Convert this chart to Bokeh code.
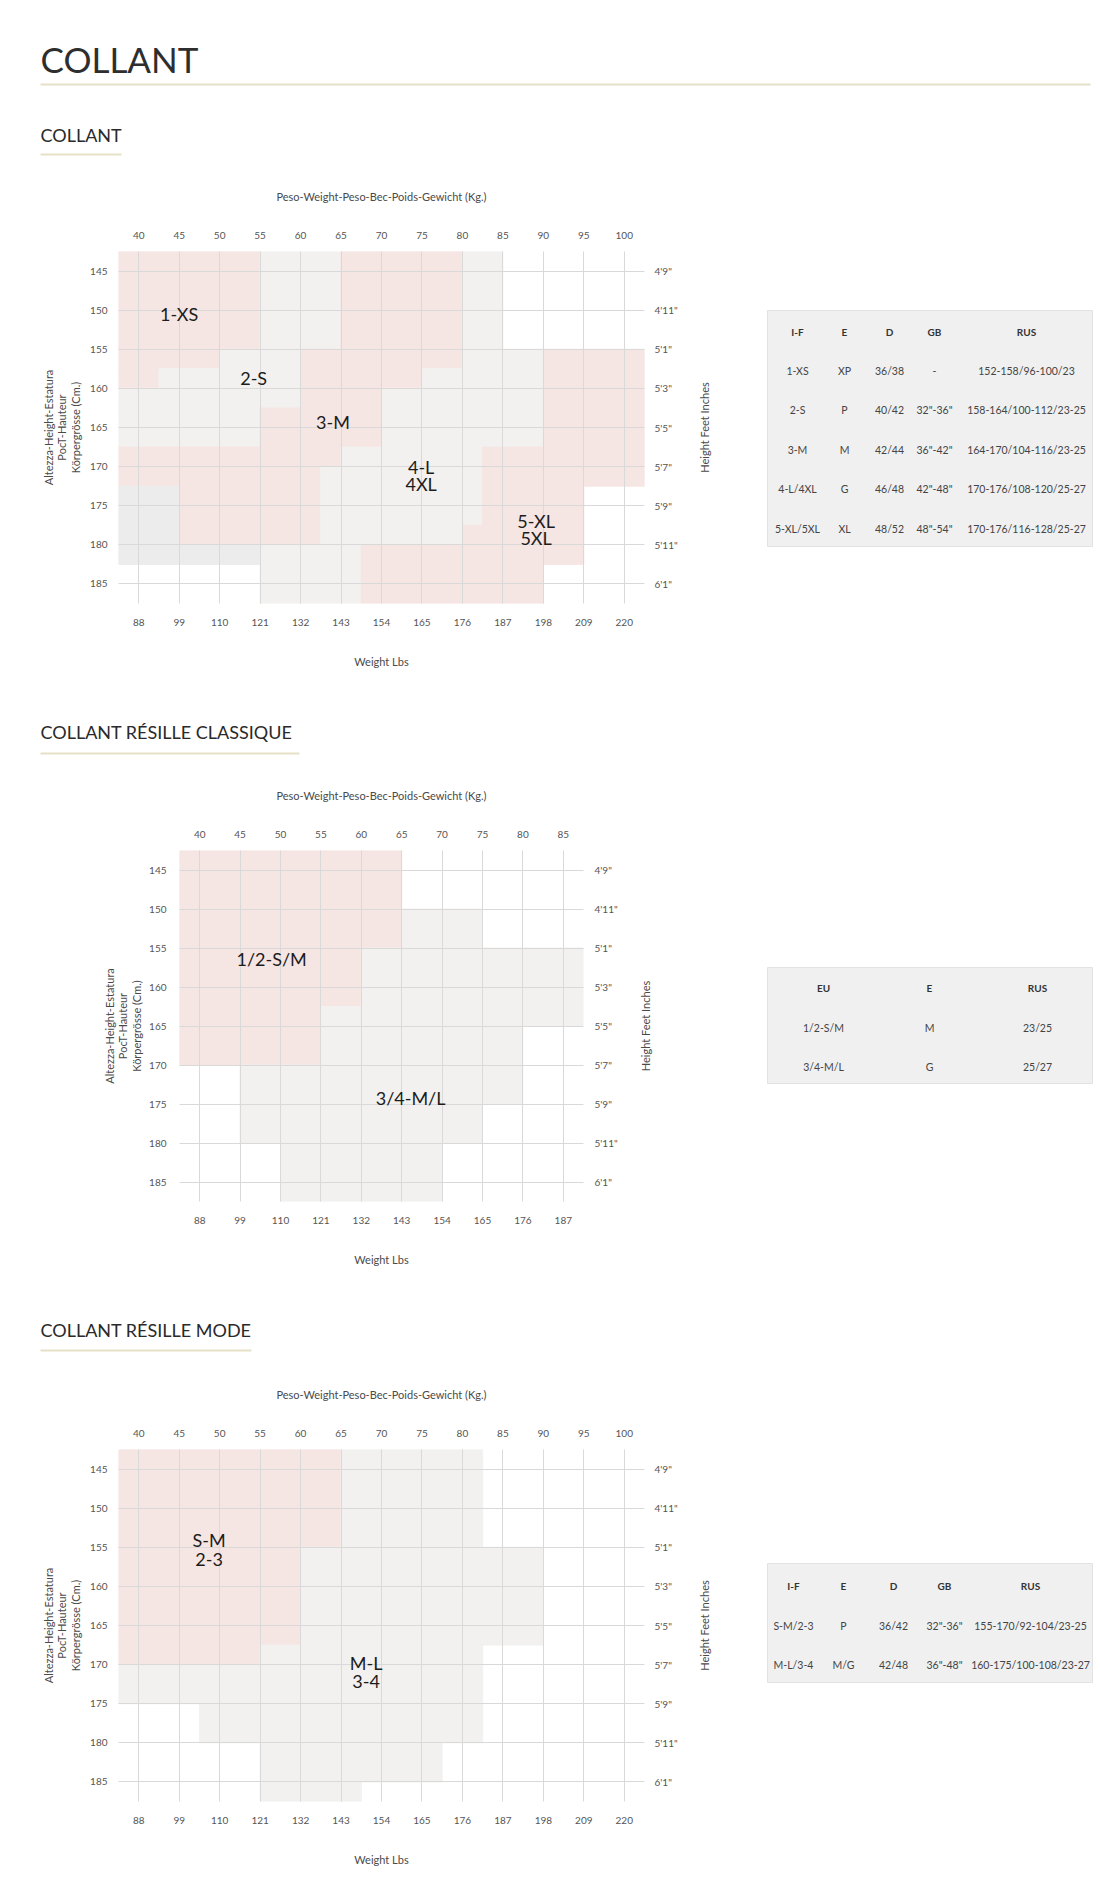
from bokeh.plotting import figure
from bokeh.models import Range1d, LinearAxis, FixedTicker, ColumnDataSource
from bokeh.layouts import column, row
from bokeh.embed import file_html
from bokeh.resources import INLINE
from bokeh.core.properties import value

# ------------------------------------------------------------------ data
WEIGHT_KG = [40, 45, 50, 55, 60, 65, 70, 75, 80, 85, 90, 95, 100]
WEIGHT_LBS = ["88", "99", "110", "121", "132", "143", "154", "165", "176",
              "187", "198", "209", "220"]
WEIGHT_KG_2 = [40, 45, 50, 55, 60, 65, 70, 75, 80, 85]
WEIGHT_LBS_2 = ["88", "99", "110", "121", "132", "143", "154", "165", "176", "187"]
HEIGHT_CM = [145, 150, 155, 160, 165, 170, 175, 180, 185]
HEIGHT_FT = ["4'9\"", "4'11\"", "5'1\"", "5'3\"", "5'5\"", "5'7\"", "5'9\"",
             "5'11\"", "6'1\""]

# zones: (kg from, kg to, cm from, cm to)
C1_XS = [(37.5, 55, 142.5, 155), (37.5, 50, 155, 157.5), (37.5, 42.5, 157.5, 160)]
C1_S = [(55, 65, 142.5, 155), (50, 60, 155, 157.5), (42.5, 60, 157.5, 160),
        (37.5, 60, 160, 162.5), (37.5, 55, 162.5, 167.5)]
C1_M = [(65, 80, 142.5, 155), (60, 80, 155, 157.5), (60, 75, 157.5, 160),
        (60, 70, 160, 162.5), (55, 70, 162.5, 167.5), (37.5, 65, 167.5, 170),
        (37.5, 62.5, 170, 172.5), (45, 62.5, 172.5, 180)]
C1_L = [(80, 85, 142.5, 155), (80, 90, 155, 157.5), (75, 90, 157.5, 160),
        (70, 90, 160, 167.5), (65, 82.5, 167.5, 170), (62.5, 82.5, 170, 177.5),
        (62.5, 80, 177.5, 180), (55, 67.5, 180, 187.5)]
C1_XL = [(90, 102.5, 155, 167.5), (82.5, 102.5, 167.5, 172.5), (82.5, 95, 172.5, 177.5),
         (80, 95, 177.5, 180), (67.5, 95, 180, 182.5), (67.5, 90, 182.5, 187.5)]
C1_OTHER = [(37.5, 45, 172.5, 180), (37.5, 55, 180, 182.5)]
C1_LABELS = ["1-XS", "2-S", "3-M", "4-L", "4XL", "5-XL", "5XL"]
C1_LABEL_KG = [45.0, 54.2, 64.0, 74.9, 74.9, 89.1, 89.1]
C1_LABEL_CM = [150.5, 158.7, 164.3, 170.0, 172.2, 176.9, 179.1]

C2_SM = [(37.5, 65, 142.5, 155), (37.5, 60, 155, 162.5), (37.5, 55, 162.5, 170)]
C2_ML = [(65, 75, 150, 155), (60, 87.5, 155, 165), (55, 60, 162.5, 165),
         (55, 80, 165, 170), (45, 80, 170, 175), (45, 75, 175, 180), (50, 70, 180, 187.5)]
C2_LABELS = ["1/2-S/M", "3/4-M/L"]
C2_LABEL_KG = [48.9, 66.1]
C2_LABEL_CM = [156.4, 174.2]

C3_SM = [(37.5, 65, 142.5, 155), (37.5, 60, 155, 167.5), (37.5, 55, 167.5, 170)]
C3_ML = [(65, 82.5, 142.5, 155), (60, 90, 155, 167.5), (55, 82.5, 167.5, 170),
         (37.5, 82.5, 170, 175), (47.5, 82.5, 175, 180), (55, 77.5, 180, 185),
         (55, 67.5, 185, 187.5)]
C3_LABELS = ["S-M", "2-3", "M-L", "3-4"]
C3_LABEL_KG = [48.7, 48.7, 68.1, 68.1]
C3_LABEL_CM = [154.1, 156.5, 169.8, 172.2]

T1_HEADER = ["I-F", "E", "D", "GB", "RUS"]
T1_IF = ["1-XS", "2-S", "3-M", "4-L/4XL", "5-XL/5XL"]
T1_E = ["XP", "P", "M", "G", "XL"]
T1_D = ["36/38", "40/42", "42/44", "46/48", "48/52"]
T1_GB = ["-", "32\"-36\"", "36\"-42\"", "42\"-48\"", "48\"-54\""]
T1_RUS = ["152-158/96-100/23", "158-164/100-112/23-25", "164-170/104-116/23-25",
          "170-176/108-120/25-27", "170-176/116-128/25-27"]

T2_HEADER = ["EU", "E", "RUS"]
T2_EU = ["1/2-S/M", "3/4-M/L"]
T2_E = ["M", "G"]
T2_RUS = ["23/25", "25/27"]

T3_HEADER = ["I-F", "E", "D", "GB", "RUS"]
T3_IF = ["S-M/2-3", "M-L/3-4"]
T3_E = ["P", "M/G"]
T3_D = ["36/42", "42/48"]
T3_GB = ["32\"-36\"", "36\"-48\""]
T3_RUS = ["155-170/92-104/23-25", "160-175/100-108/23-27"]

# ------------------------------------------------------------------ style
PINK = "#f6e6e3"
GRAY = "#f2f1ef"
GRAY2 = "#ececec"
FONT = "Lato"
TXT = "#4a4a4a"
BEIGE = "#e6e1c6"


def style_axis(ax, ticks, labels, standoff, label=None, label_standoff=0):
    ax.ticker = FixedTicker(ticks=ticks)
    ax.major_label_overrides = {t: s for t, s in zip(ticks, labels)}
    ax.axis_line_color = None
    ax.major_tick_line_color = None
    ax.minor_tick_line_color = None
    ax.major_tick_in = 0
    ax.major_tick_out = 0
    ax.major_label_standoff = standoff
    ax.major_label_text_font = FONT
    ax.major_label_text_font_size = "10px"
    ax.major_label_text_color = "#555555"
    if label:
        ax.axis_label = label
        ax.axis_label_standoff = label_standoff
        ax.axis_label_text_font = FONT
        ax.axis_label_text_font_size = "11px"
        ax.axis_label_text_font_style = "normal"
        ax.axis_label_text_color = TXT
        ax.axis_label_text_line_height = 1.05


def make_chart(width, height, borders, xmax, kg, lbs, zones, labels, lab_kg, lab_cm,
               std):
    bl, br, bt, bb = borders
    p = figure(width=width, height=height,
               x_range=Range1d(37.5, xmax), y_range=Range1d(187.5, 142.5),
               x_axis_location="above", y_axis_location="left",
               output_backend="svg", toolbar_location=None,
               min_border_left=bl, min_border_right=br,
               min_border_top=bt, min_border_bottom=bb)
    p.outline_line_color = None
    p.background_fill_color = "white"
    p.border_fill_color = "white"
    xb = LinearAxis()
    p.add_layout(xb, "below")
    yr = LinearAxis()
    p.add_layout(yr, "right")

    style_axis(p.above[0], kg, [str(k) for k in kg], std[0],
               "Peso-Weight-Peso-Bec-Poids-Gewicht (Kg.)", std[1])
    style_axis(xb, kg, lbs, std[2], "Weight Lbs", std[3])
    style_axis(p.left[0], HEIGHT_CM, [str(h) for h in HEIGHT_CM], std[4],
               "Altezza-Height-Estatura\nPocT-Hauteur\nKörpergrösse (Cm.)", std[5])
    style_axis(yr, HEIGHT_CM, HEIGHT_FT, std[6])

    p.xgrid.ticker = FixedTicker(ticks=kg)
    p.ygrid.ticker = FixedTicker(ticks=HEIGHT_CM)
    p.grid.grid_line_color = "#d9d9d9"
    p.grid.grid_line_width = 1
    p.grid.level = "guide"

    left, right, top, bottom, color = [], [], [], [], []
    for rects, c in zones:
        for (x0, x1, y0, y1) in rects:
            left.append(x0); right.append(x1); top.append(y0); bottom.append(y1)
            color.append(c)
    src = ColumnDataSource(dict(left=left, right=right, top=top, bottom=bottom,
                                color=color))
    p.quad(left="left", right="right", top="top", bottom="bottom",
           fill_color="color", line_color="color", line_width=1, source=src)

    p.text(x=lab_kg, y=lab_cm, text=labels, text_align="center",
           text_baseline="middle", text_font=value(FONT),
           text_font_size=value("18px"), text_color="#1c1c1c", level="annotation")
    return p


def make_table(width, height, bl, bt, bb, side_standoff, box, col_x, row_y, header,
               cols):
    # local pixel coordinates; the frame is aligned with the chart's frame.
    # The left border of this panel carries the chart's right-hand axis title.
    p = figure(width=width, height=height, x_range=Range1d(0, width - bl),
               y_range=Range1d(height - bb, bt), output_backend="svg",
               toolbar_location=None, x_axis_location=None, y_axis_location=None,
               min_border_left=bl, min_border_right=0,
               min_border_top=bt, min_border_bottom=bb)
    side = LinearAxis(ticker=FixedTicker(ticks=[]))
    side.axis_line_color = None
    side.major_tick_line_color = None
    side.minor_tick_line_color = None
    side.major_tick_in = 0
    side.major_tick_out = 0
    side.major_label_text_font_size = "0px"
    side.major_label_standoff = 0
    side.axis_label = "Height Feet Inches"
    side.axis_label_standoff = side_standoff
    side.axis_label_text_font = FONT
    side.axis_label_text_font_size = "11px"
    side.axis_label_text_font_style = "normal"
    side.axis_label_text_color = TXT
    p.add_layout(side, "left")
    p.grid.visible = False
    p.outline_line_color = None
    p.quad(left=[box[0]], right=[box[1]], top=[box[2]], bottom=[box[3]],
           fill_color="#f0f0f0", line_color="#e2e2e2", line_width=1)
    p.text(x=col_x, y=[row_y[0]] * len(header), text=header, text_align="center",
           text_baseline="middle", text_font=value(FONT),
           text_font_size=value("10px"), text_font_style="bold", text_color="#333333")
    xs, ys, ts = [], [], []
    for ci, colvals in enumerate(cols):
        for ri, v in enumerate(colvals):
            xs.append(col_x[ci]); ys.append(row_y[ri + 1]); ts.append(v)
    p.text(x=xs, y=ys, text=ts, text_align="center", text_baseline="middle",
           text_font=value(FONT), text_font_size=value("10.5px"),
           text_color="#444444")
    return p


def make_heading(height, items, lines):
    p = figure(width=1100, height=height, x_range=Range1d(0, 1100),
               y_range=Range1d(height, 0), output_backend="svg",
               toolbar_location=None, min_border=0)
    p.axis.visible = False
    p.grid.visible = False
    p.outline_line_color = None
    for (txt, x, y, size, color) in items:
        p.text(x=[x], y=[y], text=[txt], text_align="left", text_baseline="middle",
               text_font=value(FONT), text_font_size=value(size), text_color=color)
    for (x0, x1, y, w) in lines:
        p.segment(x0=[x0], x1=[x1], y0=[y], y1=[y], line_color=BEIGE, line_width=w)
    return p


head1 = make_heading(170, [("COLLANT", 40, 58, "35px", "#2e2e2e"),
                           ("COLLANT", 40, 134, "18px", "#2a2a2a")],
                     [(40, 1090, 84, 2), (40, 121, 154, 2)])
chart1 = make_chart(690, 530, (118, 46, 81, 97), 102.5, WEIGHT_KG, WEIGHT_LBS,
                    [(C1_XS, PINK), (C1_S, GRAY), (C1_M, PINK), (C1_L, GRAY),
                     (C1_XL, PINK), (C1_OTHER, GRAY2)],
                    C1_LABELS, C1_LABEL_KG, C1_LABEL_CM,
                    (13, 26, 15, 26, 11, 5, 10))
table1 = make_table(410, 530, 76, 81, 97, 56, (1, 326, 140, 376),
                    [31, 78, 123, 168, 260], [161, 200, 239, 279, 318, 358],
                    T1_HEADER, [T1_IF, T1_E, T1_D, T1_GB, T1_RUS])

head2 = make_heading(70, [("COLLANT RÉSILLE CLASSIQUE", 40, 31, "18px", "#2a2a2a")],
                     [(40, 299, 53, 2)])
chart2 = make_chart(630, 530, (179, 47, 80, 99), 87.5, WEIGHT_KG_2, WEIGHT_LBS_2,
                    [(C2_SM, PINK), (C2_ML, GRAY)],
                    C2_LABELS, C2_LABEL_KG, C2_LABEL_CM,
                    (13, 26, 15, 26, 13, 3, 11))
table2 = make_table(470, 530, 136, 80, 99, 115, (1, 326, 197, 313), [57, 163, 271],
                    [217, 257, 296], T2_HEADER, [T2_EU, T2_E, T2_RUS])

head3 = make_heading(70, [("COLLANT RÉSILLE MODE", 40, 29, "18px", "#2a2a2a")],
                     [(40, 251, 50, 2)])
chart3 = make_chart(690, 519, (118, 46, 79, 88), 102.5, WEIGHT_KG, WEIGHT_LBS,
                    [(C3_SM, PINK), (C3_ML, GRAY)],
                    C3_LABELS, C3_LABEL_KG, C3_LABEL_CM,
                    (13, 26, 15, 26, 11, 5, 10))
table3 = make_table(410, 519, 76, 79, 88, 56, (1, 326, 193, 312),
                    [27, 77, 127, 178, 264], [215, 255, 294], T3_HEADER,
                    [T3_IF, T3_E, T3_D, T3_GB, T3_RUS])

page = column(head1, row(chart1, table1), head2, row(chart2, table2),
              head3, row(chart3, table3))

open("out.html", "w").write(file_html(page, INLINE))
